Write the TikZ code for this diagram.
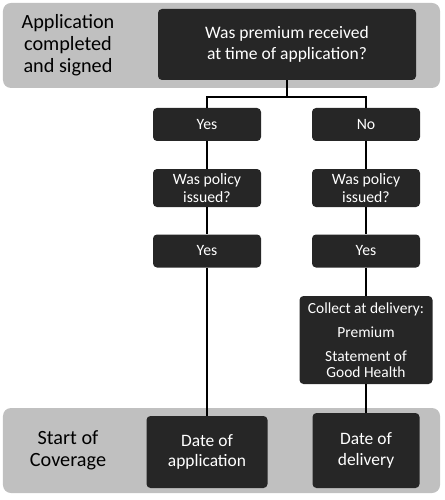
\documentclass[tikz,border=0pt]{standalone}
\usepackage{fontspec}
\setmainfont{Carlito}
\definecolor{boxgray}{HTML}{262626}
\definecolor{bandgray}{HTML}{C0C0C0}

\begin{document}
\begin{tikzpicture}[x=1bp,y=-1bp,every node/.style={inner sep=0pt},
  band/.style={fill=bandgray,rounded corners=8bp,minimum width=437bp,minimum height=85bp},
  box/.style={fill=boxgray,text=white,rounded corners=4bp,align=center,font=\fontsize{17.6}{21.5}\selectfont},
  smallbox/.style={box,minimum width=108bp,minimum height=33bp,font=\fontsize{15.8}{18}\selectfont},
  sidetext/.style={align=center,font=\fontsize{20.3}{22}\selectfont},
  link/.style={line width=1.6bp,black}]
  \useasboundingbox (0,0) rectangle (445,500);
  \node[band]     (topband) at (221.5,45.5)  {};
  \node[band]     (botband) at (221.5,450.5) {};
  \node[sidetext] (applied) at (68,45)       {Application\\completed\\and signed};
  \node[sidetext] (start)   at (68,450)      {Start of\\Coverage};

  \node[box,minimum width=258bp,minimum height=71bp] (premium) at (287,44.5) {Was premium received\\at time of application?};
  \node[smallbox]                   (yes1)    at (207,124.5)                      {Yes};
  \node[smallbox]                   (no1)     [right of=yes1,node distance=159bp]   {No};
  \node[smallbox,minimum height=38bp] (issued1) [below of=yes1,node distance=63.5bp] {Was policy\\issued?};
  \node[smallbox,minimum height=38bp] (issued2) [below of=no1,node distance=63.5bp]  {Was policy\\issued?};
  \node[smallbox]                   (yes2)    [below of=issued1,node distance=63bp] {Yes};
  \node[smallbox]                   (yes3)    [below of=issued2,node distance=63bp] {Yes};
  \node[box,minimum width=133bp,minimum height=88bp,font=\fontsize{15.5}{16}\selectfont]
                                    (collect) [below of=yes3,node distance=89bp]   {Collect at delivery:\\[8bp]Premium\\[8bp]Statement of\\Good Health};
  \node[box,minimum width=121bp,minimum height=72bp,font=\fontsize{17.5}{20.5}\selectfont] (appdate) [below of=yes2,node distance=201bp]    {Date of\\application};
  \node[box,minimum width=107bp,minimum height=75bp,font=\fontsize{17.5}{20.5}\selectfont] (deldate) [below of=collect,node distance=110.5bp] {Date of\\delivery};

  \draw[link] (premium.south) -- ++(0,17) coordinate (split);
  \draw[link] (split) -| (yes1.north);
  \draw[link] (split) -| (no1.north);
  \draw[link] (yes1) -- (issued1) -- (yes2) -- (appdate);
  \draw[link] (no1) -- (issued2) -- (yes3) -- (collect) -- (deldate);
\end{tikzpicture}
\end{document}
